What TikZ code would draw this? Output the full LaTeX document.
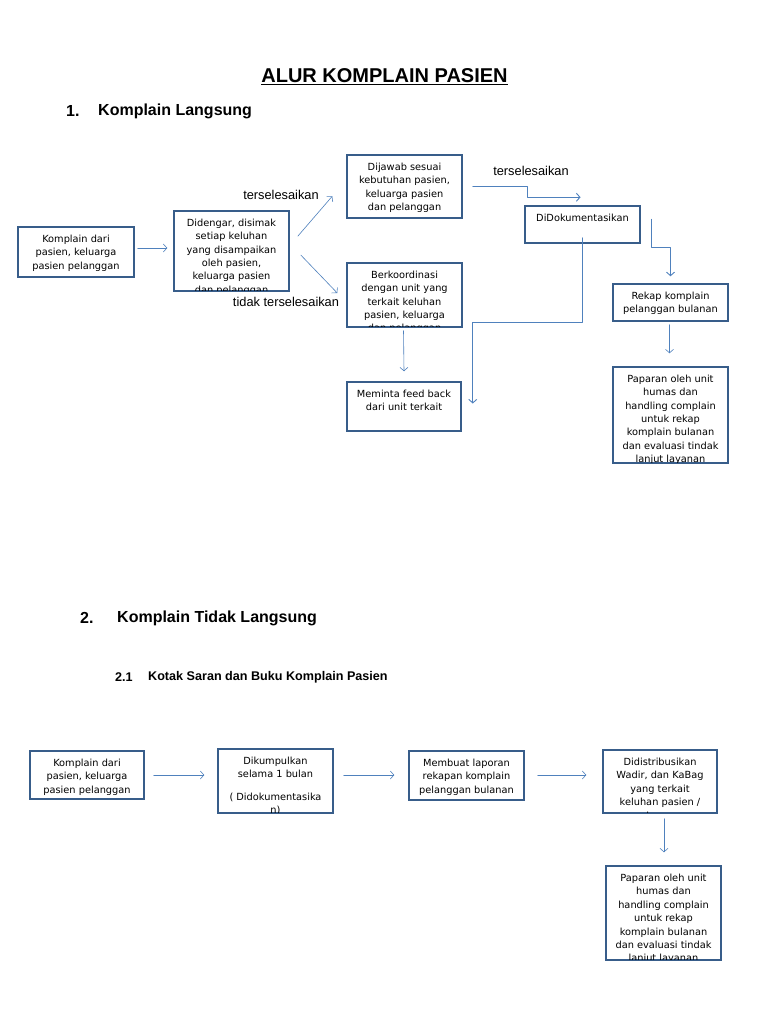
\documentclass[tikz,border=0pt]{standalone}
\usepackage{fontspec}
\setmainfont{DejaVu Sans}
\newfontfamily\headfont{Liberation Sans}
\usetikzlibrary{arrows.meta,calc,positioning}
\definecolor{boxblue}{RGB}{56,93,138}
\definecolor{arrblue}{RGB}{79,129,189}
\tikzstyle{box}=[draw=boxblue,line width=1.5pt,inner sep=0pt]
\tikzstyle{txt}=[font=\fontsize{9.8}{13.4}\selectfont,align=center,inner sep=0pt]
\tikzstyle{arr}=[draw=arrblue,line width=0.6pt,line cap=round,line join=round,-{Straight Barb[length=3.5pt,width=8pt]}]
\tikzstyle{link}=[arr,line width=0.9pt]
\tikzstyle{lbl}=[font=\headfont\fontsize{12.8}{14}\selectfont,inner sep=0pt]
\tikzstyle{head}=[font=\headfont\bfseries\fontsize{16}{18}\selectfont,inner sep=0pt,anchor=west]
% clipped text at the top of a box
\newcommand{\boxtxt}[2]{%
  \begin{scope}
    \clip ([shift={(1pt,1pt)}]#1.south west) rectangle ([shift={(-1pt,-1pt)}]#1.north east);
    \node[txt,anchor=north] at ([yshift=-8.5pt]#1.north) {#2};
  \end{scope}}
\begin{document}
\begin{tikzpicture}[x=1pt,y=-1pt]
  \fill[white] (0,0) rectangle (768,1024);
  \useasboundingbox (0,0) rectangle (768,1024);
  % headings
  \node[font=\headfont\bfseries\fontsize{20}{22}\selectfont,inner sep=0pt] (title) at (384.5,77) {\underline{ALUR KOMPLAIN PASIEN}};
  \node[head] (h1) at (66,111) {1.};
  \node[head] (h1t) at (98,111) {Komplain Langsung};
  \node[head] (h2) at (80,618) {2.};
  \node[head] (h2t) at (117,618) {Komplain Tidak Langsung};
  \node[head,font=\headfont\bfseries\fontsize{12.6}{14}\selectfont] (h21) at (115,677) {2.1};
  \node[head,font=\headfont\bfseries\fontsize{12.6}{14}\selectfont] (h21t) at (148,677) {Kotak Saran dan Buku Komplain Pasien};

  % komplain langsung
  \node[box,minimum width=116pt,minimum height=50pt] (kdari) at (76,252) {};
  \node[box,minimum width=115pt,minimum height=80pt] (dengar) at (231.5,251) {};
  \node[box,minimum width=115pt,minimum height=63pt] (jawab) at (404.5,186.5) {};
  \node[box,minimum width=115pt,minimum height=64pt] (koord) at (404.5,295) {};
  \node[box,minimum width=115pt,minimum height=37pt] (dok) at (582.5,224.5) {};
  \node[box,minimum width=115pt,minimum height=37pt] (rekap) at (670.5,302.5) {};
  \node[box,minimum width=114pt,minimum height=49pt] (minta) at (404,406.5) {};
  \node[box,minimum width=115pt,minimum height=96pt] (papar) at (670.5,415) {};
  \boxtxt{kdari}{Komplain dari\\pasien, keluarga\\pasien pelanggan}
  \boxtxt{dengar}{Didengar, disimak\\setiap keluhan\\yang disampaikan\\oleh pasien,\\keluarga pasien\\dan pelanggan}
  \boxtxt{jawab}{Dijawab sesuai\\kebutuhan pasien,\\keluarga pasien\\dan pelanggan}
  \boxtxt{koord}{Berkoordinasi\\dengan unit yang\\terkait keluhan\\pasien, keluarga\\dan pelanggan}
  \boxtxt{dok}{DiDokumentasikan}
  \boxtxt{rekap}{Rekap komplain\\pelanggan bulanan}
  \boxtxt{minta}{Meminta feed back\\dari unit terkait}
  \boxtxt{papar}{Paparan oleh unit\\humas dan\\handling complain\\untuk rekap\\komplain bulanan\\dan evaluasi tindak\\lanjut layanan}

  \node[lbl] (lsel) at (281,195) {terselesaikan};
  \node[lbl] (ltidak) at (286,302) {tidak terselesaikan};
  \node[lbl] (lsel2) at (531,171) {terselesaikan};

  \draw[arr] ($(kdari.east)+(3,-4)$) -- ($(dengar.west)+(-6,-3)$);
  \draw[arr] ($(dengar.north east)+(8,26)$) -- ($(jawab.north west)+(-14,42)$);
  \draw[arr] ($(dengar.east)+(11,4)$) -- ($(koord.west)+(-9,-2)$);
  \draw[link] ($(jawab.east)+(10,0)$) -- ++(55,0) |- ($(dok.north)+(-2,-8)$);
  \draw[link] ($(dok.north east)+(11,14)$) -- ++(0,28) -| ($(rekap.north)+(0,-7)$);
  \draw[link] ($(dok.south)+(0,-6)$) -- ++(0,85) -| ($(minta.east)+(11,-3)$);
  \draw[arr] ($(koord.south)+(-1,3)$) -- ($(minta.north)+(0,-10)$);
  \draw[arr] ($(rekap.south)+(-1,3)$) -- ($(papar.north)+(-1,-13)$);

  % komplain tidak langsung
  \node[box,minimum width=114pt,minimum height=48pt] (kdari2) at (87,775) {};
  \node[box,minimum width=115pt,minimum height=64pt] (kumpul) at (275.5,781) {};
  \node[box,minimum width=115pt,minimum height=49pt] (lapor) at (466.5,775.5) {};
  \node[box,minimum width=114pt,minimum height=63pt] (distrib) at (660,781.5) {};
  \node[box,minimum width=115pt,minimum height=94pt] (papar2) at (663.5,913) {};
  \boxtxt{kdari2}{Komplain dari\\pasien, keluarga\\pasien pelanggan}
  \boxtxt{kumpul}{Dikumpulkan\\selama 1 bulan\\[9pt]( Didokumentasika\\n)}
  \boxtxt{lapor}{Membuat laporan\\rekapan komplain\\pelanggan bulanan}
  \boxtxt{distrib}{Didistribusikan\\Wadir, dan KaBag\\yang terkait\\keluhan pasien /\\pelanggan}
  \boxtxt{papar2}{Paparan oleh unit\\humas dan\\handling complain\\untuk rekap\\komplain bulanan\\dan evaluasi tindak\\lanjut layanan}

  \draw[arr] ($(kdari2.east)+(9,0)$) -- ($(kumpul.west)+(-13,-6)$);
  \draw[arr] ($(kumpul.east)+(10,-6)$) -- ($(lapor.west)+(-14,-0.5)$);
  \draw[arr] ($(lapor.east)+(13,-0.5)$) -- ($(distrib.west)+(-16,-6.5)$);
  \draw[arr] ($(distrib.south)+(4,5)$) -- ($(papar2.north)+(0.5,-13)$);
\end{tikzpicture}
\end{document}
